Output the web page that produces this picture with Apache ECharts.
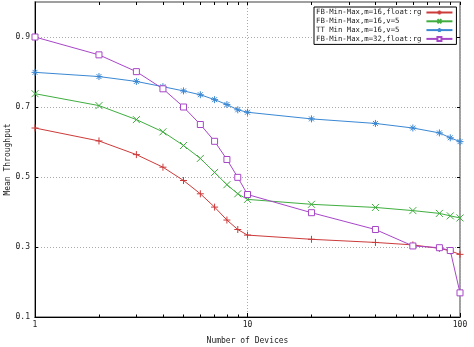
<!DOCTYPE html>
<html>
<head>
<meta charset="utf-8">
<script src="https://cdn.jsdelivr.net/npm/echarts@6/dist/echarts.min.js"></script>
<style>html,body{margin:0;padding:0;background:#fff}#c{width:474px;height:347px}</style>
</head>
<body>
<div id="c"></div>
<script>
const devices = [1, 2, 3, 4, 5, 6, 7, 8, 9, 10, 20, 40, 60, 80, 90, 100];
const fbMinMax16Float = [0.640, 0.603, 0.564, 0.528, 0.490, 0.452, 0.414, 0.377, 0.350, 0.334, 0.322, 0.313, 0.306, 0.296, 0.289, 0.279];
const fbMinMax16V5 = [0.738, 0.704, 0.664, 0.629, 0.590, 0.553, 0.513, 0.478, 0.452, 0.436, 0.422, 0.413, 0.404, 0.396, 0.389, 0.383];
const ttMinMax16V5 = [0.799, 0.787, 0.773, 0.758, 0.746, 0.735, 0.721, 0.707, 0.692, 0.685, 0.666, 0.653, 0.640, 0.626, 0.612, 0.601];
const fbMinMax32Float = [0.900, 0.849, 0.801, 0.752, 0.700, 0.650, 0.602, 0.550, 0.499, 0.450, 0.398, 0.350, 0.303, 0.298, 0.290, 0.169];
const seriesNames = [
  'FB-Min-Max,m=16,float:rg',
  'FB-Min-Max,m=16,v=5',
  'TT Min Max,m=16,v=5',
  'FB-Min-Max,m=32,float:rg'
];
const xMajorTicks = [1, 10, 100];
const xMinorTicks = [2, 3, 4, 5, 6, 7, 8, 9, 20, 30, 40, 50, 60, 70, 80, 90];
const yTicks = [0.1, 0.3, 0.5, 0.7, 0.9];

const MONO = '"DejaVu Sans Mono", "Liberation Mono", monospace';
const maxLen = Math.max(...seriesNames.map(s => s.length));
const padded = seriesNames.map(s => s + ' '.repeat(maxLen - s.length));

const colors = ['#cc3a3a', '#3fae3f', '#3a88d4', '#a846c8'];
const symbols = [
  'path://M5,0L5,10M0,5L10,5',
  'path://M0,0L10,10M0,10L10,0',
  'path://M5,0L5,10M0,5L10,5M1.5,1.5L8.5,8.5M1.5,8.5L8.5,1.5',
  'path://M0,0L10,0L10,10L0,10Z'
];
const values = [fbMinMax16Float, fbMinMax16V5, ttMinMax16V5, fbMinMax32Float];

const series = values.map((vals, i) => ({
  name: padded[i],
  type: 'line',
  xAxisIndex: 0,
  yAxisIndex: 0,
  data: devices.map((d, j) => [d, vals[j]]),
  symbol: symbols[i],
  symbolSize: i === 3 ? 6 : 7,
  showAllSymbol: true,
  lineStyle: { color: colors[i], width: 1 },
  itemStyle: { color: i === 3 ? '#fff' : colors[i], borderColor: colors[i], borderWidth: 1 },
  emphasis: { disabled: true },
  animation: false,
  z: 2 + i
}));

const grid = { left: 35, right: 14, top: 2, bottom: 30, show: true, borderColor: '#808080', borderWidth: 1.5, backgroundColor: 'transparent', containLabel: false, outerBoundsMode: 'none' };
const dotted = { type: [1, 2], color: '#aaa', width: 1 };
const tickStyle = { color: '#000', width: 1 };

const chart = echarts.init(document.getElementById('c'), null, { renderer: 'canvas' });
chart.setOption({
  animation: false,
  backgroundColor: '#fff',
  grid: grid,
  legend: {
    orient: 'vertical',
    left: 314, top: 7,
    align: 'right',
    backgroundColor: '#fff',
    borderColor: '#000', borderWidth: 1,
    padding: [2, 3, 2, 2],
    itemWidth: 26, itemHeight: 5, itemGap: 1.8,
    textStyle: { fontFamily: MONO, fontSize: 7.3, color: '#222' },
    data: padded
  },
  xAxis: [{
    type: 'log', logBase: 10, min: 1, max: 100,
    name: 'Number of Devices', nameLocation: 'middle', nameGap: 20, nameMoveOverlap: false,
    nameTextStyle: { fontFamily: MONO, fontSize: 8, color: '#222' },
    axisLine: { show: true, lineStyle: { color: '#000', width: 1 } },
    axisTick: { show: true, inside: true, length: 4, customValues: xMajorTicks, lineStyle: tickStyle },
    axisLabel: { fontFamily: MONO, fontSize: 8, color: '#222', margin: 4, customValues: xMajorTicks },
    splitLine: { show: true, lineStyle: dotted },
    minorTick: { show: false }
  }, {
    type: 'log', logBase: 10, min: 1, max: 100, position: 'top',
    axisLine: { show: false },
    axisTick: { show: true, inside: true, length: 3, customValues: xMajorTicks.concat(xMinorTicks), lineStyle: tickStyle },
    axisLabel: { show: false },
    splitLine: { show: false }
  }, {
    type: 'log', logBase: 10, min: 1, max: 100, position: 'bottom',
    axisLine: { show: false },
    axisTick: { show: true, inside: true, length: 2.5, customValues: xMinorTicks, lineStyle: tickStyle },
    axisLabel: { show: false },
    splitLine: { show: false }
  }],
  yAxis: [{
    type: 'value', min: 0.1, max: 1.0, interval: 0.2,
    name: 'Mean Throughput', nameLocation: 'middle', nameGap: 23, nameMoveOverlap: false,
    nameTextStyle: { fontFamily: MONO, fontSize: 8, color: '#222' },
    axisLine: { show: true, lineStyle: { color: '#000', width: 1 } },
    axisTick: { show: true, inside: true, length: 3, customValues: yTicks, lineStyle: tickStyle },
    axisLabel: { fontFamily: MONO, fontSize: 8, color: '#222', margin: 5, customValues: yTicks, formatter: v => v.toFixed(1) },
    splitLine: { show: true, lineStyle: dotted }
  }, {
    type: 'value', min: 0.1, max: 1.0, interval: 0.2, position: 'right',
    axisLine: { show: false },
    axisTick: { show: true, inside: true, length: 3, customValues: yTicks, lineStyle: tickStyle },
    axisLabel: { show: false },
    splitLine: { show: false }
  }],
  series: series
});
</script>
</body>
</html>
